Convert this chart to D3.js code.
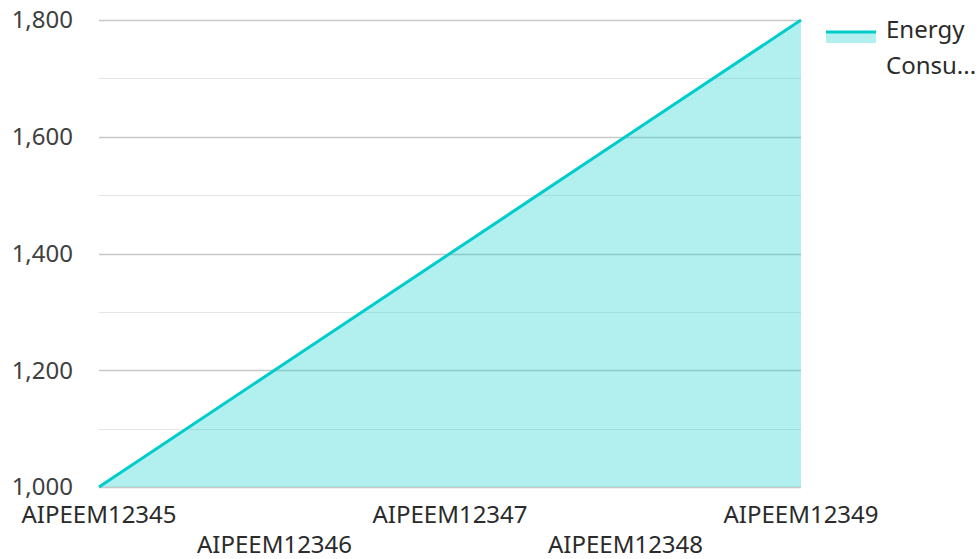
<!DOCTYPE html>
<html>
<head>
<meta charset="utf-8">
<script src="https://cdn.jsdelivr.net/npm/d3@7"></script>
<style>
  body { margin: 0; background: #fff; }
  text { font-family: "Noto Sans", sans-serif; }
</style>
</head>
<body>
<div id="chart"></div>
<script>
// data
var categories = ["AIPEEM12345", "AIPEEM12346", "AIPEEM12347", "AIPEEM12348", "AIPEEM12349"];
var energyValues = [1000, 1200, 1400, 1600, 1800];
var yTicks = [1000, 1200, 1400, 1600, 1800];
var yMinorTicks = [1100, 1300, 1500, 1700];
var seriesName = "Energy Consumption";

var svgWidth = 980;
var svgHeight = 559;
var margin = { top: 20, right: 179, bottom: 72, left: 99 };
var width = svgWidth - margin.left - margin.right;
var height = svgHeight - margin.top - margin.bottom;

var lineColor = "#00cccc";

var svg = d3.select("#chart")
  .append("svg")
  .attr("width", svgWidth)
  .attr("height", svgHeight);

var chartGroup = svg.append("g")
  .attr("transform", `translate(${margin.left}, ${margin.top})`);

var xScale = d3.scalePoint()
  .domain(categories)
  .range([0, width]);

var yScale = d3.scaleLinear()
  .domain([1000, 1800])
  .range([height, 0]);

// gridlines
chartGroup.selectAll(".minor")
  .data(yMinorTicks)
  .enter()
  .append("line")
  .attr("x1", 0)
  .attr("x2", width)
  .attr("y1", d => Math.round(yScale(d)) + 0.5)
  .attr("y2", d => Math.round(yScale(d)) + 0.5)
  .attr("stroke", "#e6e6e6")
  .attr("stroke-width", 1);

chartGroup.selectAll(".major")
  .data(yTicks)
  .enter()
  .append("line")
  .attr("x1", 0)
  .attr("x2", width)
  .attr("y1", d => Math.round(yScale(d)) + 0.5)
  .attr("y2", d => Math.round(yScale(d)) + 0.5)
  .attr("stroke", "#c8c8c8")
  .attr("stroke-width", 1.3);

// area + line
var points = categories.map((c, i) => ({ cat: c, val: energyValues[i] }));

var area = d3.area()
  .x(d => xScale(d.cat))
  .y0(yScale(1000))
  .y1(d => yScale(d.val));

var line = d3.line()
  .x(d => xScale(d.cat))
  .y(d => yScale(d.val));

chartGroup.append("path")
  .datum(points)
  .attr("d", area)
  .attr("fill", lineColor)
  .attr("fill-opacity", 0.3);

chartGroup.append("path")
  .datum(points)
  .attr("d", line)
  .attr("fill", "none")
  .attr("stroke", lineColor)
  .attr("stroke-width", 3);

// y labels
chartGroup.selectAll(".ylabel")
  .data(yTicks)
  .enter()
  .append("text")
  .attr("x", -26)
  .attr("y", d => yScale(d))
  .attr("dy", "0.35em")
  .attr("text-anchor", "end")
  .attr("font-size", 24)
  .attr("fill", "#404040")
  .text(d => d3.format(",")(d));

// x labels, staggered
chartGroup.selectAll(".xlabel")
  .data(categories)
  .enter()
  .append("text")
  .attr("x", d => xScale(d))
  .attr("y", (d, i) => height + (i % 2 === 0 ? 36 : 66))
  .attr("text-anchor", "middle")
  .attr("font-size", 24)
  .attr("fill", "#2b2b2b")
  .text(d => d);

// legend
var legend = svg.append("g")
  .attr("transform", "translate(826, 26)");

legend.append("rect")
  .attr("x", 0)
  .attr("y", 6)
  .attr("width", 50)
  .attr("height", 11)
  .attr("fill", lineColor)
  .attr("fill-opacity", 0.3);

legend.append("line")
  .attr("x1", 0)
  .attr("x2", 50)
  .attr("y1", 6)
  .attr("y2", 6)
  .attr("stroke", lineColor)
  .attr("stroke-width", 3);

legend.append("text")
  .attr("x", 60)
  .attr("y", 12)
  .attr("font-size", 24)
  .attr("fill", "#2b2b2b")
  .text("Energy");

legend.append("text")
  .attr("x", 60)
  .attr("y", 48)
  .attr("font-size", 24)
  .attr("fill", "#2b2b2b")
  .text("Consu...")
  .append("title")
  .text(seriesName);
</script>
</body>
</html>
